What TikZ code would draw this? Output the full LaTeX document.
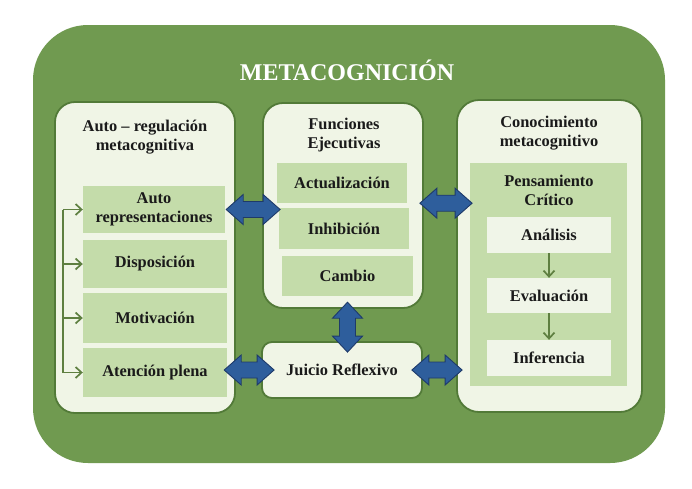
\documentclass[tikz,border=0pt]{standalone}
\usepackage{fontspec}
\setmainfont{Liberation Serif}
\usetikzlibrary{calc,arrows.meta}
\definecolor{outerg}{HTML}{709A50}
\definecolor{pfill}{HTML}{F0F5E6}
\definecolor{pborder}{HTML}{527A38}
\definecolor{subfill}{HTML}{C4DCAA}
\definecolor{innerfill}{HTML}{F0F5E8}
\definecolor{gline}{HTML}{5E7F40}
\definecolor{bfill}{HTML}{2E5E9C}
\definecolor{bdraw}{HTML}{1E3A6A}
\definecolor{txtc}{HTML}{1A1A1A}
\newcommand{\fb}{\bfseries\fontsize{16.4}{19}\selectfont}
\newcommand{\dblH}[2]{\path[bluearr] let \p1=(#1), \p2=(#2) in
 (\x1,\y1) -- (\x1+17pt,\y1+15pt) -- (\x1+17pt,\y1+8pt) -- (\x2-17pt,\y1+8pt) -- (\x2-17pt,\y1+15pt) -- (\x2,\y1) -- (\x2-17pt,\y1-15pt) -- (\x2-17pt,\y1-8pt) -- (\x1+17pt,\y1-8pt) -- (\x1+17pt,\y1-15pt) -- cycle;}
\newcommand{\dblV}[2]{\path[bluearr] let \p1=(#1), \p2=(#2) in
 (\x1,\y1) -- (\x1+15pt,\y1-16pt) -- (\x1+8pt,\y1-16pt) -- (\x1+8pt,\y2+16pt) -- (\x1+15pt,\y2+16pt) -- (\x1,\y2) -- (\x1-15pt,\y2+16pt) -- (\x1-8pt,\y2+16pt) -- (\x1-8pt,\y1-16pt) -- (\x1-15pt,\y1-16pt) -- cycle;}
\begin{document}
\begin{tikzpicture}[x=1pt,y=-1pt,
  outer/.style={fill=outerg, draw=none, rounded corners=55pt, minimum width=632pt, minimum height=438pt, inner sep=0},
  panel/.style={fill=pfill, draw=pborder, line width=1.8pt, rounded corners=20pt, inner sep=0},
  subbox/.style={fill=subfill, draw=none, inner sep=0, font=\fb, text=txtc, align=center},
  innerbox/.style={fill=innerfill, draw=none, inner sep=0, font=\fb, text=txtc, align=center, minimum width=124pt},
  lbl/.style={font=\fb, text=txtc, align=center, inner sep=0},
  bluearr/.style={fill=bfill, draw=bdraw, line width=0.9pt, line join=miter},
  gl/.style={draw=gline, line width=1.7pt},
  garrow/.style={draw=gline, line width=1.7pt, -{Straight Barb[length=6pt,width=11pt]}}
]
\useasboundingbox (0,0) rectangle (692,488);
\fill[white] (0,0) rectangle (692,488);
\node[outer] (bg) at (349,244) {};
\node[text=white, font=\bfseries\fontsize{24}{28}\selectfont, inner sep=0] (title) at (347,70) {METACOGNICIÓN};
% panels
\node[panel, minimum width=180pt, minimum height=311pt] (left) at (145,257.5) {};
\node[panel, minimum width=160pt, minimum height=205pt] (mid) at (343,205.5) {};
\node[panel, rounded corners=10pt, minimum width=160pt, minimum height=56pt, font=\fb, text=txtc] (juicio) at (342,370) {Juicio Reflexivo};
\node[panel, rounded corners=22pt, minimum width=185pt, minimum height=312pt] (right) at (549.5,256) {};
% panel titles
\node[lbl] (ltitle) at (145,137) {Auto – regulación\\metacognitiva};
\node[lbl] (mtitle) at (344,135) {Funciones\\Ejecutivas};
\node[lbl] (rtitle) at (549,133) {Conocimiento\\metacognitivo};
% left sub-boxes
\node[subbox, minimum width=142pt, minimum height=47pt] (autorep) at (154,209.5) {Auto\\representaciones};
\node[subbox, minimum width=144pt, minimum height=48pt] (disp) at (155,264) {Disposición};
\node[subbox, minimum width=144pt, minimum height=50pt] (motiv) at (155,318) {Motivación};
\node[subbox, minimum width=144pt, minimum height=49pt] (aten) at (155,372.5) {Atención plena};
% middle sub-boxes
\node[subbox, minimum width=130pt, minimum height=40pt] (actual) at (342,183) {Actualización};
\node[subbox, minimum width=130pt, minimum height=41pt] (inhib) at (344,228.5) {Inhibición};
\node[subbox, minimum width=131pt, minimum height=40pt] (cambio) at (347.5,276) {Cambio};
% right inner
\node[subbox, minimum width=157pt, minimum height=223pt] (pens) at (548.5,274.5) {};
\node[lbl] (ptitle) at (549,190) {Pensamiento\\Crítico};
\node[innerbox, minimum height=36pt] (anal) at (549,235) {Análisis};
\node[innerbox, minimum height=35pt] (eval) at (549,295.5) {Evaluación};
\node[innerbox, minimum height=36pt] (infer) at (549,358) {Inferencia};
% green arrows
\coordinate (bt) at ($(autorep.west)+(-20,0)$);
\coordinate (b2) at ($(disp.west)+(-20,0)$);
\coordinate (b3) at ($(motiv.west)+(-20,0)$);
\coordinate (bb) at ($(aten.west)+(-20,0)$);
\draw[gl] (bt) -- (bb);
\draw[garrow] (bt) -- (autorep.west);
\draw[garrow] (b2) -- (disp.west);
\draw[garrow] (b3) -- (motiv.west);
\draw[garrow] (bb) -- (aten.west);
\draw[garrow] (anal.south) -- (eval.north);
\draw[garrow] (eval.south) -- (infer.north);
% blue double arrows
\coordinate (a1s) at ($(autorep.east)+(1,0)$);
\coordinate (a1e) at ($(autorep.east -| mid.west)+(18,0)$);
\coordinate (a2s) at ($(actual.south -| mid.east)+(-4,0)$);
\coordinate (a2e) at ($(actual.south -| right.west)+(16,0)$);
\coordinate (a3s) at ($(cambio.south)+(0,6)$);
\coordinate (a3e) at ($(cambio.south |- juicio.north)+(0,11)$);
\coordinate (a4s) at ($(juicio.west -| aten.east)+(-3,0)$);
\coordinate (a4e) at ($(juicio.west)+(13,0)$);
\coordinate (a5s) at ($(juicio.east)+(-11,0)$);
\coordinate (a5e) at ($(juicio.east -| right.west)+(6,0)$);
\dblH{a1s}{a1e}
\dblH{a2s}{a2e}
\dblV{a3s}{a3e}
\dblH{a4s}{a4e}
\dblH{a5s}{a5e}
\end{tikzpicture}
\end{document}
